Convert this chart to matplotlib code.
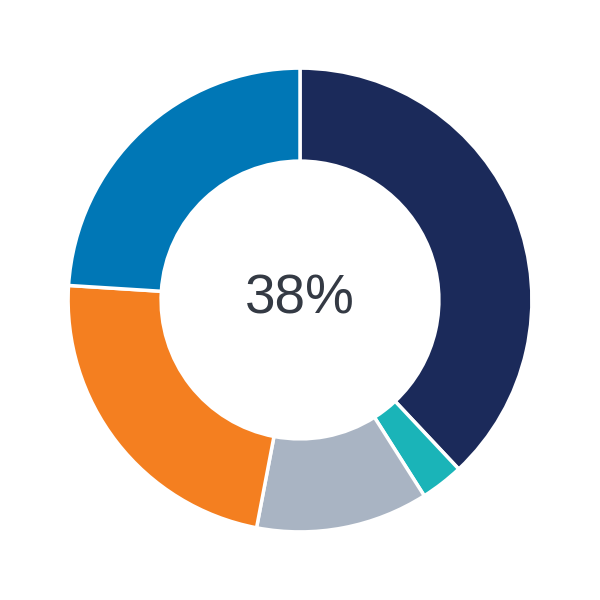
import matplotlib.pyplot as plt

labels = ['Navy', 'Teal', 'Gray', 'Orange', 'Blue']
values = [38, 3, 12, 23, 24]
colors = ['#1b2a5a', '#1ab4b8', '#a9b4c3', '#f47f20', '#0077b6']
center_text = '38%'

fig = plt.figure(figsize=(6, 6), dpi=100)
ax = fig.add_axes([0, 0, 1, 1])
ax.pie(values, colors=colors, startangle=90, counterclock=False,
       radius=0.773, wedgeprops=dict(width=0.31, edgecolor='white', linewidth=2.5))
ax.text(0, 0.0, center_text, ha='center', va='center', fontsize=39.5,
        color='#343a44', family=['Liberation Sans', 'DejaVu Sans'])
ax.set_xlim(-1, 1)
ax.set_ylim(-1, 1)
ax.set_aspect('equal')
ax.axis('off')
fig.savefig('out.png', dpi=100, facecolor='white')
